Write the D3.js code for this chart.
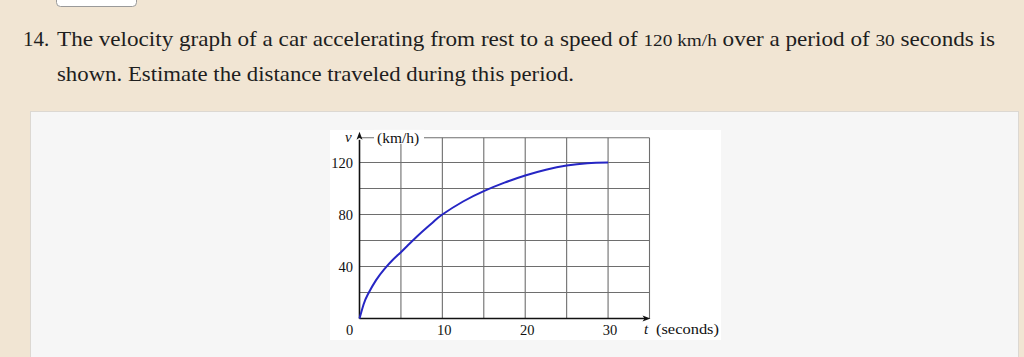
<!DOCTYPE html>
<html>
<head>
<meta charset="utf-8">
<script src="https://cdn.jsdelivr.net/npm/d3@7"></script>
<style>
  html, body { margin: 0; padding: 0; background: #f1e5d3; }
  svg { display: block; }
  svg text { font-family: "Liberation Serif", "Tinos", "Times New Roman", Times, serif; }
</style>
</head>
<body>
<svg id="chart" width="1024" height="357"></svg>
<script>
// ---- data ----
const timeSeconds = [0, 0.5, 1, 2, 3, 4, 5, 6, 7, 8, 9, 10, 12.5, 15, 17.5, 20, 22.5, 25, 27.5, 30];
const velocityKmh = [0, 11, 18.5, 29.5, 38, 45, 51, 57.3, 63.5, 69.3, 74.8, 80, 90, 98, 104.5, 110, 114.4, 117.7, 119.5, 120];
const xTickLabels = [0, 10, 20, 30];
const yTickLabels = [40, 80, 120];
const xGridValues = [5, 10, 15, 20, 25, 30, 35];
const yGridValues = [20, 40, 60, 80, 100, 120];
const yFrameTop = 139;
const questionNumber = "14.";
const questionParts = [
  {t: "The velocity graph of a car accelerating from rest to a speed of ", small: false},
  {t: "120 km/h", small: true},
  {t: " over a period of ", small: false},
  {t: "30", small: true},
  {t: " seconds is", small: false}
];
const questionLine2 = "shown. Estimate the distance traveled during this period.";

const svg = d3.select("#chart");

// top small box (partially visible)
svg.append("rect").attr("x", 56.5).attr("y", -10).attr("width", 80).attr("height", 16.5)
  .attr("rx", 4).attr("fill", "#ffffff").attr("stroke", "#9a9a9a").attr("stroke-width", 1);

// question text
svg.append("text").attr("x", 23).attr("y", 46)
  .style("font-size", "21px").attr("fill", "#1e1e1e").text(questionNumber);
const line1 = svg.append("text").attr("x", 57).attr("y", 46)
  .style("font-size", "21px").attr("fill", "#1e1e1e");
questionParts.forEach(p => {
  line1.append("tspan").style("font-size", p.small ? "17.5px" : "21px").text(p.t);
});
line1.attr("textLength", 938).attr("lengthAdjust", "spacingAndGlyphs");
svg.append("text").attr("x", 57).attr("y", 81)
  .style("font-size", "21px").attr("fill", "#1e1e1e").text(questionLine2)
  .attr("textLength", 517).attr("lengthAdjust", "spacingAndGlyphs");

// gray panel
svg.append("rect").attr("x", 30.5).attr("y", 111.5).attr("width", 988).attr("height", 260)
  .attr("fill", "#f6f6f6").attr("stroke", "#dcd8d2").attr("stroke-width", 1);

// white figure area
svg.append("rect").attr("x", 330).attr("y", 130).attr("width", 391).attr("height", 210)
  .attr("fill", "#ffffff");

// scales
const x = d3.scaleLinear().domain([0, 35]).range([359.5, 649.5]);
const y = d3.scaleLinear().domain([0, 120]).range([318.5, 162.5]);

const g = svg.append("g");

// grid
g.selectAll("line.vg").data(xGridValues).enter().append("line")
  .attr("x1", d => x(d)).attr("x2", d => x(d))
  .attr("y1", y(0)).attr("y2", y(yFrameTop))
  .attr("stroke", "#6e6e6e").attr("stroke-width", 1.1);
g.selectAll("line.hg").data(yGridValues).enter().append("line")
  .attr("x1", x(0)).attr("x2", x(35))
  .attr("y1", d => y(d)).attr("y2", d => y(d))
  .attr("stroke", "#6e6e6e").attr("stroke-width", 1.1);
g.append("line").attr("x1", x(0)).attr("x2", x(35))
  .attr("y1", y(yFrameTop)).attr("y2", y(yFrameTop))
  .attr("stroke", "#6e6e6e").attr("stroke-width", 1.1);

// axes
g.append("line").attr("x1", x(0)).attr("x2", x(35) - 4).attr("y1", y(0)).attr("y2", y(0))
  .attr("stroke", "#111").attr("stroke-width", 1.6);
g.append("line").attr("x1", x(0)).attr("x2", x(0)).attr("y1", y(0)).attr("y2", y(yFrameTop) + 2)
  .attr("stroke", "#111").attr("stroke-width", 1.6);
// arrowheads
const xa = x(35), ya = y(0);
g.append("path").attr("d", `M${xa + 1},${ya} L${xa - 7},${ya - 3} L${xa - 5},${ya} L${xa - 7},${ya + 3} Z`).attr("fill", "#111");
const xb = x(0), yb = y(yFrameTop) - 6;
g.append("path").attr("d", `M${xb},${yb} L${xb - 3},${yb + 8} L${xb},${yb + 6} L${xb + 3},${yb + 8} Z`).attr("fill", "#111");

// curve
const line = d3.line().x((d, i) => x(timeSeconds[i])).y(d => y(d)).curve(d3.curveNatural);
g.append("path").datum(velocityKmh).attr("d", line)
  .attr("fill", "none").attr("stroke", "#2626c4").attr("stroke-width", 2);

// label background + labels
g.append("rect").attr("x", 374).attr("y", y(yFrameTop) - 8).attr("width", 50).attr("height", 14).attr("fill", "#fff");
g.append("text").attr("x", 377).attr("y", 143).style("font-size", "15.5px")
  .attr("fill", "#111").text("(km/h)");
g.append("text").attr("x", 345).attr("y", 142).style("font-size", "15px")
  .style("font-style", "italic").attr("fill", "#111").text("v");

// y tick labels
g.selectAll("text.yt").data(yTickLabels).enter().append("text")
  .attr("x", 353).attr("y", d => y(d)).attr("dy", "0.35em").attr("text-anchor", "end")
  .style("font-size", "14.5px").attr("fill", "#111").text(d => d);
// x tick labels
g.selectAll("text.xt").data(xTickLabels).enter().append("text")
  .attr("x", d => d === 0 ? x(0) - 10 : x(d) + 2).attr("y", 335).attr("text-anchor", "middle")
  .style("font-size", "14.5px").attr("fill", "#111").text(d => d);
g.append("text").attr("x", 644).attr("y", 334).style("font-size", "15px")
  .style("font-style", "italic").attr("fill", "#111").text("t");
g.append("text").attr("x", 656).attr("y", 334).style("font-size", "15.5px")
  .attr("fill", "#111").attr("textLength", 63).attr("lengthAdjust", "spacingAndGlyphs").text("(seconds)");
</script>
</body>
</html>
